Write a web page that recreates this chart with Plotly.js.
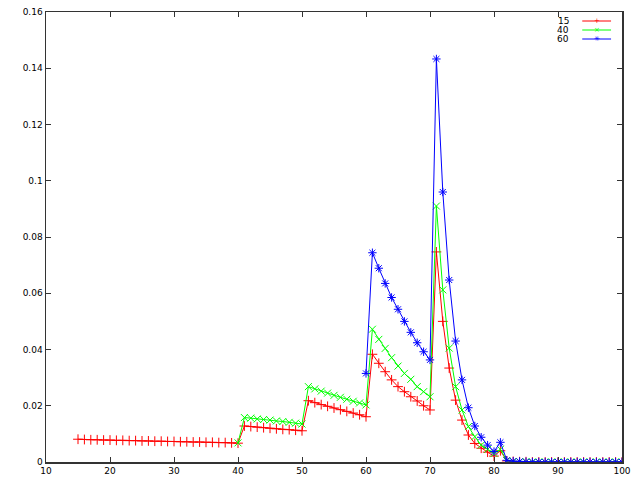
<!DOCTYPE html>
<html>
<head>
<meta charset="utf-8">
<script src="https://cdn.plot.ly/plotly-3.0.1.min.js"></script>
<style>
  html, body { margin: 0; padding: 0; background: #fff; }
  #plot { width: 640px; height: 480px; }
</style>
</head>
<body>
<div id="plot"></div>
<script>
// x positions of each series
const x15 = [];
for (let i = 15; i <= 100; i++) x15.push(i);
const x40 = [];
for (let i = 40; i <= 100; i++) x40.push(i);
const x60 = [];
for (let i = 60; i <= 100; i++) x60.push(i);

// series "15" (red), x = 15..100
const y15 = [
    0.0081, 0.0080, 0.0079, 0.0079, 0.0078, 0.0078, 0.0077, 0.0077, 0.0076, 0.0076,
    0.0075, 0.0075, 0.0074, 0.0074, 0.0073, 0.0073, 0.0072, 0.0072, 0.0071, 0.0071,
    0.0070, 0.0070, 0.0069, 0.0069, 0.0068, 0.0067,
    0.0128, 0.0126, 0.0124, 0.0122, 0.0120, 0.0118, 0.0116, 0.0115, 0.0113, 0.0111,
    0.0218, 0.0211, 0.0204, 0.0198, 0.0192, 0.0186, 0.0180, 0.0174, 0.0168, 0.0161,
    0.0383, 0.0351, 0.0321, 0.0292, 0.0268, 0.0250, 0.0232, 0.0217, 0.0200, 0.0185,
    0.0747, 0.0500, 0.0334, 0.0220, 0.0149, 0.0096, 0.0066, 0.0049, 0.0035, 0.0021,
    0.0040, 0.0004, 0.0002, 0.0001, 0.0001, 0, 0, 0, 0, 0,
    0, 0, 0, 0, 0, 0, 0, 0, 0, 0
];

// series "40" (green), x = 40..100
const y40 = [
    0.0068,
    0.0158, 0.0156, 0.0153, 0.0151, 0.0149, 0.0146, 0.0144, 0.0141, 0.0138, 0.0135,
    0.0268, 0.0260, 0.0252, 0.0245, 0.0237, 0.0230, 0.0223, 0.0216, 0.0210, 0.0203,
    0.0472, 0.0436, 0.0404, 0.0371, 0.0341, 0.0315, 0.0294, 0.0268, 0.0250, 0.0232,
    0.0910, 0.0612, 0.0405, 0.0268, 0.0185, 0.0126, 0.0090, 0.0060, 0.0045, 0.0030,
    0.0045, 0.0005, 0.0002, 0.0001, 0.0001, 0, 0, 0, 0, 0,
    0, 0, 0, 0, 0, 0, 0, 0, 0, 0
];

// series "60" (blue), x = 60..100
const y60 = [
    0.0315,
    0.0744, 0.0689, 0.0635, 0.0585, 0.0543, 0.0500, 0.0461, 0.0424, 0.0392, 0.0363,
    0.1433, 0.0960, 0.0647, 0.0430, 0.0292, 0.0193, 0.0128, 0.0088, 0.0060, 0.0037,
    0.0070, 0.0006, 0.0003, 0.0002, 0.0001, 0, 0, 0, 0, 0,
    0, 0, 0, 0, 0, 0, 0, 0, 0, 0
];

const seriesNames = ['15', '40', '60'];
const seriesColors = ['#ff0000', '#00ff00', '#0000ff'];
const seriesSymbols = ['cross-thin-open', 'x-thin-open', 'asterisk-open'];
const legendGlyphs = ['+', '×', '✳'];

const xs = [x15, x40, x60];
const ys = [y15, y40, y60];

var data = [];
for (let i = 0; i < 3; i++) {
    data.push({
        x: xs[i],
        y: ys[i],
        name: seriesNames[i],
        type: 'scatter',
        mode: 'lines+markers',
        line: { color: seriesColors[i], width: 1 },
        marker: {
            symbol: seriesSymbols[i],
            size: 7,
            color: seriesColors[i],
            line: { color: seriesColors[i], width: 1 }
        }
    });
}

// gnuplot-style key, drawn by hand: label on the left, sample on the right
var shapes = [];
var annotations = [];
const keyRows = [0.98, 0.96, 0.94];
for (let i = 0; i < 3; i++) {
    shapes.push({
        type: 'line', xref: 'paper', yref: 'paper',
        x0: 0.931, x1: 0.981, y0: keyRows[i], y1: keyRows[i],
        line: { color: seriesColors[i], width: 1 }
    });
    annotations.push({
        xref: 'paper', yref: 'paper', x: 0.911, y: keyRows[i],
        xanchor: 'right', yanchor: 'middle', showarrow: false,
        text: seriesNames[i],
        font: { family: 'DejaVu Sans', size: 9, color: '#000' }
    });
    annotations.push({
        xref: 'paper', yref: 'paper', x: 0.9566, y: keyRows[i],
        xanchor: 'center', yanchor: 'middle', showarrow: false,
        text: legendGlyphs[i],
        borderpad: 0,
        font: { family: 'DejaVu Sans', size: 7, color: seriesColors[i] }
    });
}

var axisStyle = {
    showline: true,
    linecolor: '#333',
    linewidth: 1.5,
    mirror: 'allticks',
    ticks: 'inside',
    ticklen: 5,
    tickcolor: '#333',
    showgrid: false,
    zeroline: false,
    tickfont: { family: 'DejaVu Sans', size: 9, color: '#000' }
};

var layout = {
    width: 640,
    height: 480,
    margin: { l: 46, r: 18, t: 12, b: 18 },
    paper_bgcolor: '#fff',
    plot_bgcolor: '#fff',
    showlegend: false,
    xaxis: Object.assign({}, axisStyle, {
        range: [10, 100],
        dtick: 10,
        tick0: 10
    }),
    yaxis: Object.assign({}, axisStyle, {
        range: [0, 0.16],
        dtick: 0.02,
        tick0: 0
    }),
    shapes: shapes,
    annotations: annotations
};

Plotly.newPlot('plot', data, layout, { displayModeBar: false, staticPlot: true });
</script>
</body>
</html>
